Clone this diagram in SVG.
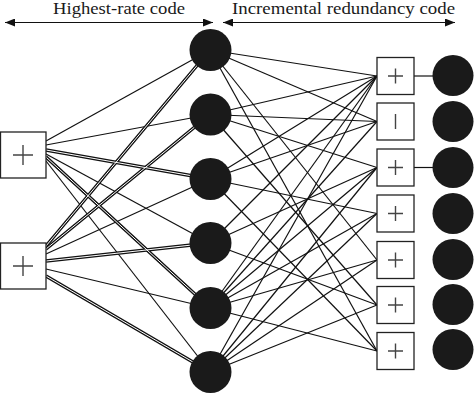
<svg xmlns="http://www.w3.org/2000/svg" width="474" height="394" viewBox="0 0 474 394">
<defs>
<style>
.lbl{font-family:"Liberation Serif","DejaVu Serif","Times New Roman",serif;font-size:17px;fill:#1a1a1a}
.e{stroke:#111;stroke-width:1.2;fill:none}
.d1{stroke:#111;stroke-width:3.4;fill:none}
.d2{stroke:#fff;stroke-width:1;fill:none}
.box{fill:#fff;stroke:#222;stroke-width:1.3}
.sign{stroke:#444;stroke-width:1.4;fill:none}
.dot{fill:#1a1a1a}
.arr{stroke:#111;stroke-width:1.2;fill:none}
</style>
<marker id="ah" viewBox="0 0 10 8" refX="10" refY="4" markerWidth="10" markerHeight="8" markerUnits="userSpaceOnUse" orient="auto-start-reverse">
<path d="M0,0 L10,4 L0,8 Z" fill="#111"/>
</marker>
</defs>
<rect width="474" height="394" fill="#fff"/>
<g id="header">
<text class="lbl" font-family="Liberation Serif, serif" x="53" y="14" textLength="132" lengthAdjust="spacingAndGlyphs">Highest-rate code</text>
<text class="lbl" font-family="Liberation Serif, serif" x="232" y="14" textLength="223" lengthAdjust="spacingAndGlyphs">Incremental redundancy code</text>
<line class="arr" x1="5" y1="22.5" x2="213" y2="22.5" marker-start="url(#ah)" marker-end="url(#ah)"/>
<line class="arr" x1="223" y1="22.5" x2="455" y2="22.5" marker-start="url(#ah)" marker-end="url(#ah)"/>
</g>
<g id="connectors">
<line class="e" x1="46" y1="141" x2="210" y2="50"/>
<line class="e" x1="46" y1="145" x2="210" y2="114.5"/>
<line class="e" x1="46" y1="154" x2="210" y2="243"/>
<line class="e" x1="46" y1="161" x2="210" y2="372"/>
<line class="e" x1="46" y1="254" x2="210" y2="179"/>
<line class="e" x1="46" y1="269" x2="210" y2="308"/>
<line class="d1" x1="46" y1="150" x2="210" y2="179"/>
<line class="d1" x1="46" y1="157" x2="210" y2="308"/>
<line class="d1" x1="46" y1="246" x2="210" y2="50"/>
<line class="d1" x1="46" y1="249" x2="210" y2="114.5"/>
<line class="d1" x1="46" y1="261" x2="210" y2="243"/>
<line class="d1" x1="46" y1="276" x2="210" y2="372"/>
<line class="d2" x1="46" y1="150" x2="210" y2="179"/>
<line class="d2" x1="46" y1="157" x2="210" y2="308"/>
<line class="d2" x1="46" y1="246" x2="210" y2="50"/>
<line class="d2" x1="46" y1="249" x2="210" y2="114.5"/>
<line class="d2" x1="46" y1="261" x2="210" y2="243"/>
<line class="d2" x1="46" y1="276" x2="210" y2="372"/>
<line class="e" x1="210" y1="50" x2="377" y2="76"/>
<line class="e" x1="210" y1="50" x2="377" y2="121.5"/>
<line class="e" x1="210" y1="50" x2="377" y2="260"/>
<line class="e" x1="210" y1="50" x2="377" y2="351"/>
<line class="e" x1="210" y1="114.5" x2="377" y2="76"/>
<line class="e" x1="210" y1="114.5" x2="377" y2="121.5"/>
<line class="e" x1="210" y1="114.5" x2="377" y2="167.5"/>
<line class="e" x1="210" y1="114.5" x2="377" y2="305"/>
<line class="e" x1="210" y1="179" x2="377" y2="76"/>
<line class="e" x1="210" y1="179" x2="377" y2="121.5"/>
<line class="e" x1="210" y1="179" x2="377" y2="213.5"/>
<line class="e" x1="210" y1="179" x2="377" y2="351"/>
<line class="e" x1="210" y1="243" x2="377" y2="76"/>
<line class="e" x1="210" y1="243" x2="377" y2="167.5"/>
<line class="e" x1="210" y1="243" x2="377" y2="305"/>
<line class="e" x1="210" y1="308" x2="377" y2="76"/>
<line class="e" x1="210" y1="308" x2="377" y2="121.5"/>
<line class="e" x1="210" y1="308" x2="377" y2="167.5"/>
<line class="e" x1="210" y1="308" x2="377" y2="213.5"/>
<line class="e" x1="210" y1="308" x2="377" y2="260"/>
<line class="e" x1="210" y1="308" x2="377" y2="351"/>
<line class="e" x1="210" y1="372" x2="377" y2="76"/>
<line class="e" x1="210" y1="372" x2="377" y2="167.5"/>
<line class="e" x1="210" y1="372" x2="377" y2="213.5"/>
<line class="e" x1="210" y1="372" x2="377" y2="260"/>
<line class="e" x1="210" y1="372" x2="377" y2="305"/>
<line class="e" x1="414" y1="76" x2="434" y2="76"/>
<line class="e" x1="414" y1="167.5" x2="434" y2="167.5"/>
</g>
<g id="L1"><rect class="box" x="0.5" y="132" width="45.5" height="46"/><path class="sign" d="M13,155 H33 M23,145 V165"/></g>
<g id="L2"><rect class="box" x="0.5" y="243" width="45.5" height="46"/><path class="sign" d="M13,266 H33 M23,256 V276"/></g>
<g id="M1"><circle class="dot" cx="210.5" cy="50" r="21"/></g>
<g id="M2"><circle class="dot" cx="210.5" cy="114.5" r="21"/></g>
<g id="M3"><circle class="dot" cx="210.5" cy="179" r="21"/></g>
<g id="M4"><circle class="dot" cx="210.5" cy="243" r="21"/></g>
<g id="M5"><circle class="dot" cx="210.5" cy="308" r="21"/></g>
<g id="M6"><circle class="dot" cx="210.5" cy="372" r="21"/></g>
<g id="R1"><rect class="box" x="377" y="57.5" width="37" height="37"/><path class="sign" d="M388,76 H403 M395.5,68.5 V83.5"/></g>
<g id="R2"><rect class="box" x="377" y="103" width="37" height="37"/><path class="sign" d="M395.5,114 V129"/></g>
<g id="R3"><rect class="box" x="377" y="149" width="37" height="37"/><path class="sign" d="M388,167.5 H403 M395.5,160 V175"/></g>
<g id="R4"><rect class="box" x="377" y="195" width="37" height="37"/><path class="sign" d="M388,213.5 H403 M395.5,206 V221"/></g>
<g id="R5"><rect class="box" x="377" y="241.5" width="37" height="37"/><path class="sign" d="M388,260 H403 M395.5,252.5 V267.5"/></g>
<g id="R6"><rect class="box" x="377" y="286.5" width="37" height="37"/><path class="sign" d="M388,305 H403 M395.5,297.5 V312.5"/></g>
<g id="R7"><rect class="box" x="377" y="332.5" width="37" height="37"/><path class="sign" d="M388,351 H403 M395.5,343.5 V358.5"/></g>
<g id="O1"><circle class="dot" cx="453" cy="75.5" r="20.5"/></g>
<g id="O2"><circle class="dot" cx="453" cy="121.5" r="20.5"/></g>
<g id="O3"><circle class="dot" cx="453" cy="167.5" r="20.5"/></g>
<g id="O4"><circle class="dot" cx="453" cy="213.5" r="20.5"/></g>
<g id="O5"><circle class="dot" cx="453" cy="259.5" r="20.5"/></g>
<g id="O6"><circle class="dot" cx="453" cy="304.5" r="20.5"/></g>
<g id="O7"><circle class="dot" cx="453" cy="349.5" r="20.5"/></g>
</svg>
